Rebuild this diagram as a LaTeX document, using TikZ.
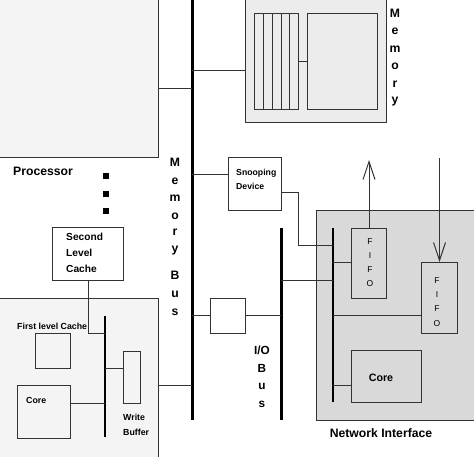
\documentclass[tikz,border=0pt]{standalone}
\usepackage{fontspec}
\setmainfont{Liberation Sans}
\usetikzlibrary{arrows.meta}
\definecolor{linec}{HTML}{333333}
\definecolor{procfill}{HTML}{F4F4F4}
\definecolor{memfill}{HTML}{ECECEC}
\definecolor{nifill}{HTML}{D9D9D9}
\begin{document}
\begin{tikzpicture}[x=1pt,y=-1pt,
  box/.style={draw=linec, line width=1pt, inner sep=0pt, anchor=north west},
  wire/.style={draw=linec, line width=1pt},
  bus/.style={draw=black, line width=3pt},
  ibus/.style={draw=black, line width=2pt},
  arr/.style={wire, -{Straight Barb[length=18pt,width=12pt,line width=1pt]}},
  big/.style={font=\bfseries\fontsize{12.2}{13}\selectfont, inner sep=0pt},
  mid/.style={font=\bfseries\fontsize{10.2}{16}\selectfont, inner sep=0pt},
  small/.style={font=\bfseries\fontsize{8.8}{10}\selectfont, inner sep=0pt},
  tiny/.style={font=\fontsize{8.5}{10}\selectfont, inner sep=0pt},
  dot/.style={fill=black, minimum size=6pt, inner sep=0pt}
]
\clip (0,0) rectangle (474,456);
\fill[white] (0,0) rectangle (474,456);
% boxes
\node[box, fill=procfill, minimum width=160pt, minimum height=159pt] (proc) at (-2,-2) {};
\node[box, fill=procfill, minimum width=160pt, minimum height=160pt] (proclow) at (-2,298) {};
\node[box, fill=memfill, minimum width=141pt, minimum height=124pt] (mem) at (245,-2) {};
\node[box, fill=memfill, minimum width=44pt, minimum height=96pt] (stripes) at (254,13) {};
\foreach \i/\x in {1/263,2/272,3/281,4/289}
  \draw[wire] (\x,13) -- (\x,109);
\node[box, fill=memfill, minimum width=70pt, minimum height=96pt] (array) at (307,13) {};
\node[box, fill=white, minimum width=53pt, minimum height=53pt] (snoop) at (228,157) {};
\node[box, fill=white, minimum width=35pt, minimum height=35pt] (iobox) at (210,298) {};
\node[box, fill=nifill, minimum width=160pt, minimum height=210pt] (ni) at (316,210) {};
\node[box, fill=nifill, minimum width=35pt, minimum height=70pt] (fifo1) at (351,228) {};
\node[box, fill=nifill, minimum width=36pt, minimum height=71pt] (fifo2) at (421,262) {};
\node[box, fill=nifill, minimum width=70pt, minimum height=52pt] (nicore) at (351,350) {};
\node[box, fill=white, minimum width=71pt, minimum height=53pt] (l2) at (52,227) {};
\node[box, fill=procfill, minimum width=35pt, minimum height=35pt] (l1) at (35,333) {};
\node[box, fill=procfill, minimum width=53pt, minimum height=53pt] (core) at (17,385) {};
\node[box, fill=procfill, minimum width=17pt, minimum height=52pt] (wb) at (123,351) {};
% buses
\coordinate (mbT) at (192,-2); \coordinate (mbB) at (192,420);
\coordinate (iobT) at (281,228); \coordinate (iobB) at (281,420);
\coordinate (nibT) at (333,228); \coordinate (nibB) at (333,402);
\coordinate (pbT) at (105,316); \coordinate (pbB) at (105,437);
\draw[bus] (mbT) -- (mbB);
\draw[bus] (iobT) -- (iobB);
\draw[ibus] (nibT) -- (nibB);
\draw[ibus] (pbT) -- (pbB);
% wires
\draw[wire] (proc.east |- 0,88) -- (mbT |- 0,88);
\draw[wire] (mbT |- 0,70) -- (mem.west |- 0,70);
\draw[wire] (stripes.east |- 0,61) -- (array.west |- 0,61);
\draw[wire] (mbT |- 0,174) -- (snoop.west |- 0,174);
\draw[wire] (snoop.east |- 0,192) -- (298,192) -- (298,245) -- (nibT |- 0,245);
\draw[wire] (mbT |- 0,315) -- (iobox.west |- 0,315);
\draw[wire] (iobox.east |- 0,315) -- (iobT |- 0,315);
\draw[wire] (iobT |- 0,280) -- (nibT |- 0,280);
\draw[wire] (nibT |- 0,262) -- (fifo1.west |- 0,262);
\draw[wire] (nibT |- 0,315) -- (fifo2.west |- 0,315);
\draw[wire] (nibT |- 0,385) -- (nicore.west |- 0,385);
\coordinate (outtop) at (fifo1.north |- 0,160);
\coordinate (intop) at (fifo2.north |- 0,158);
\draw[arr] (fifo1.north) -- (outtop);
\draw[arr] (intop) -- (fifo2.north);
\draw[wire] (proclow.east |- 0,385) -- (mbT |- 0,385);
\draw[wire] (l2.south) -- (l2.south |- 0,333) -- (pbT |- 0,333);
\draw[wire] (core.east |- 0,403) -- (pbT |- 0,403);
\draw[wire] (pbT |- 0,368) -- (wb.west |- 0,368);
% texts
\node[big, anchor=west] (tproc) at (13,171) {Processor};
\node[dot] (d1) at (106,176) {};
\node[dot] (d2) at (106,194) {};
\node[dot] (d3) at (106,211) {};
\foreach \c/\y [count=\k] in {M/162,e/181,m/198,o/216,r/232,y/251,B/275,u/294,s/312}
  \node[big] (mb\k) at (175,\y) {\c};
\foreach \c/\y [count=\k] in {M/13,e/31,m/49,o/66,r/84,y/102}
  \node[big] (mm\k) at (395,\y) {\c};
\node[small, anchor=west, font=\bfseries\fontsize{8.7}{10}\selectfont] (ts1) at (236,173) {Snooping};
\node[small, anchor=west, font=\bfseries\fontsize{8.7}{10}\selectfont] (ts2) at (236,186) {Device};
\node[mid, anchor=west] (tl2a) at (66,237) {Second};
\node[mid, anchor=west] (tl2b) at (66,253) {Level};
\node[mid, anchor=west] (tl2c) at (66,269) {Cache};
\node[small, anchor=west] (tl1) at (17,326) {First level Cache};
\node[small, anchor=west] (tcore) at (26,400) {Core};
\node[small, anchor=west] (twb1) at (123,417) {Write};
\node[small, anchor=west] (twb2) at (123,432) {Buffer};
\foreach \c/\y [count=\k] in {F/242,I/256,F/270,O/284}
  \node[tiny] (fa\k) at (370,\y) {\c};
\foreach \c/\y [count=\k] in {F/281,I/295,F/309,O/324}
  \node[tiny] (fb\k) at (437,\y) {\c};
\node[big, font=\bfseries\fontsize{11.8}{12}\selectfont] (io1) at (262,350) {I/O};
\foreach \c/\y [count=\k] in {B/368,u/386,s/404}
  \node[big, font=\bfseries\fontsize{11.8}{12}\selectfont] (iob\k) at (262,\y) {\c};
\node[mid, font=\bfseries\fontsize{10.7}{12}\selectfont] (tnicore) at (381,378) {Core};
\node[big] (tni) at (381,433) {Network Interface};
\end{tikzpicture}
\end{document}
